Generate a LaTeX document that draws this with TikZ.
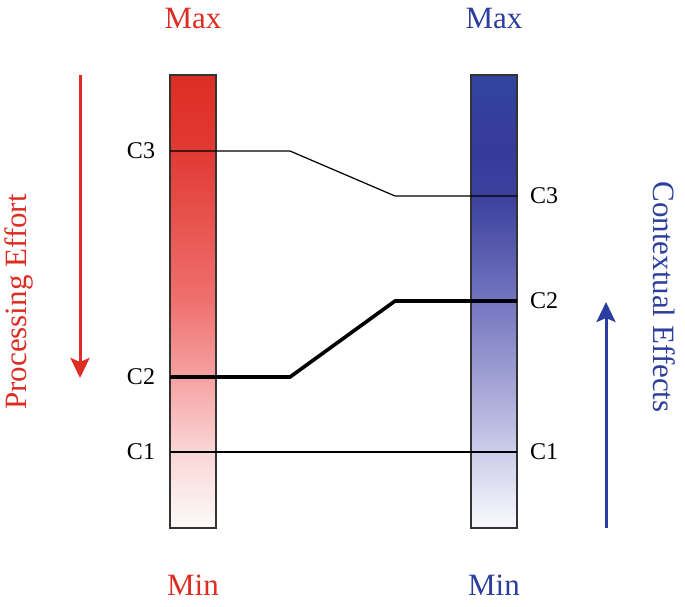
\documentclass[tikz,border=0pt]{standalone}
\usepackage{fontspec}
\setmainfont{Liberation Serif}
\usetikzlibrary{arrows.meta}
\definecolor{rtop}{RGB}{221,45,35}
\definecolor{rs1}{RGB}{225,58,52}
\definecolor{rs2}{RGB}{239,112,110}
\definecolor{rs3}{RGB}{246,162,162}
\definecolor{rs4}{RGB}{250,214,214}
\definecolor{rbot}{RGB}{252,250,250}
\definecolor{btop}{RGB}{48,68,160}
\definecolor{bs1}{RGB}{56,58,155}
\definecolor{bs2}{RGB}{60,64,156}
\definecolor{bs3}{RGB}{115,118,192}
\definecolor{bs4}{RGB}{160,160,212}
\definecolor{bs5}{RGB}{205,205,235}
\definecolor{bbot}{RGB}{250,250,253}
\definecolor{redarrow}{RGB}{222,45,35}
\definecolor{bluearrow}{RGB}{42,62,162}
\definecolor{bluetext}{RGB}{44,62,158}
\pgfdeclareverticalshading{redgrad}{100bp}{color(0bp)=(rbot); color(25bp)=(rbot); color(33.39bp)=(rs4); color(41.67bp)=(rs3); color(50.17bp)=(rs2); color(66.61bp)=(rs1); color(75bp)=(rtop); color(100bp)=(rtop)}
\pgfdeclareverticalshading{bluegrad}{100bp}{color(0bp)=(bbot); color(25bp)=(bbot); color(33.39bp)=(bs5); color(41.67bp)=(bs4); color(50.05bp)=(bs3); color(61.64bp)=(bs2); color(66.7bp)=(bs1); color(75bp)=(btop); color(100bp)=(btop)}
\tikzset{
  bar/.style={draw=black!80, line width=1.5pt, minimum width=46pt, minimum height=453pt, inner sep=0pt, outer sep=0pt},
  redbar/.style={bar, shading=redgrad},
  bluebar/.style={bar, shading=bluegrad},
  big/.style={font=\fontsize{31}{31}\selectfont, inner sep=0pt},
  clab/.style={font=\fontsize{24}{24}\selectfont, inner sep=0pt},
  thinline/.style={line width=1.2pt, line join=miter},
  thickline/.style={line width=3.6pt, line join=miter},
  bigarrow/.style={line width=3pt, -{Stealth[length=20pt,width=19pt,inset=4pt]}}
}
\begin{document}
\begin{tikzpicture}[x=1pt,y=-1pt]
\useasboundingbox (0,0) rectangle (685,606);
% bars
\node[redbar] (lbar) at (193,301.5) {};
\node[bluebar] (rbar) at (494,301.5) {};
% labels
\node[big, text=rtop] (lmax) at (193,18) {Max};
\node[big, text=rtop] (lmin) at (193,585) {Min};
\node[big, text=bluetext] (rmax) at (494,18) {Max};
\node[big, text=bluetext] (rmin) at (494,585) {Min};
\node[clab] (lc3) at (141,151) {C3};
\node[clab] (lc2) at (141,377) {C2};
\node[clab] (lc1) at (141,452) {C1};
\node[clab] (rc3) at (544,196) {C3};
\node[clab] (rc2) at (544,301) {C2};
\node[clab] (rc1) at (544,452) {C1};
\node[big, text=rtop, rotate=90] (pe) at (19,302) {Processing Effort};
\node[big, text=bluetext, rotate=-90] (ce) at (664,297) {Contextual Effects};
% coordinates
\coordinate (a3) at (170,151);
\coordinate (b3) at (290,151);
\coordinate (c3) at (395,196);
\coordinate (d3) at (517,196);
\coordinate (a2) at (170,377);
\coordinate (b2) at (290,377);
\coordinate (c2) at (395,301);
\coordinate (d2) at (517,301);
\coordinate (a1) at (170,452);
\coordinate (d1) at (517,452);
\coordinate (la1) at (80,75);
\coordinate (la2) at (80,378);
\coordinate (ra1) at (606,528);
\coordinate (ra2) at (606,302);
% lines
\draw[thinline] (a3) -- (b3) -- (c3) -- (d3);
\draw[thickline] (a2) -- (b2) -- (c2) -- (d2);
\draw[thinline] (a1) -- (d1);
% arrows
\draw[bigarrow, redarrow] (la1) -- (la2);
\draw[bigarrow, bluearrow] (ra1) -- (ra2);
\end{tikzpicture}
\end{document}
